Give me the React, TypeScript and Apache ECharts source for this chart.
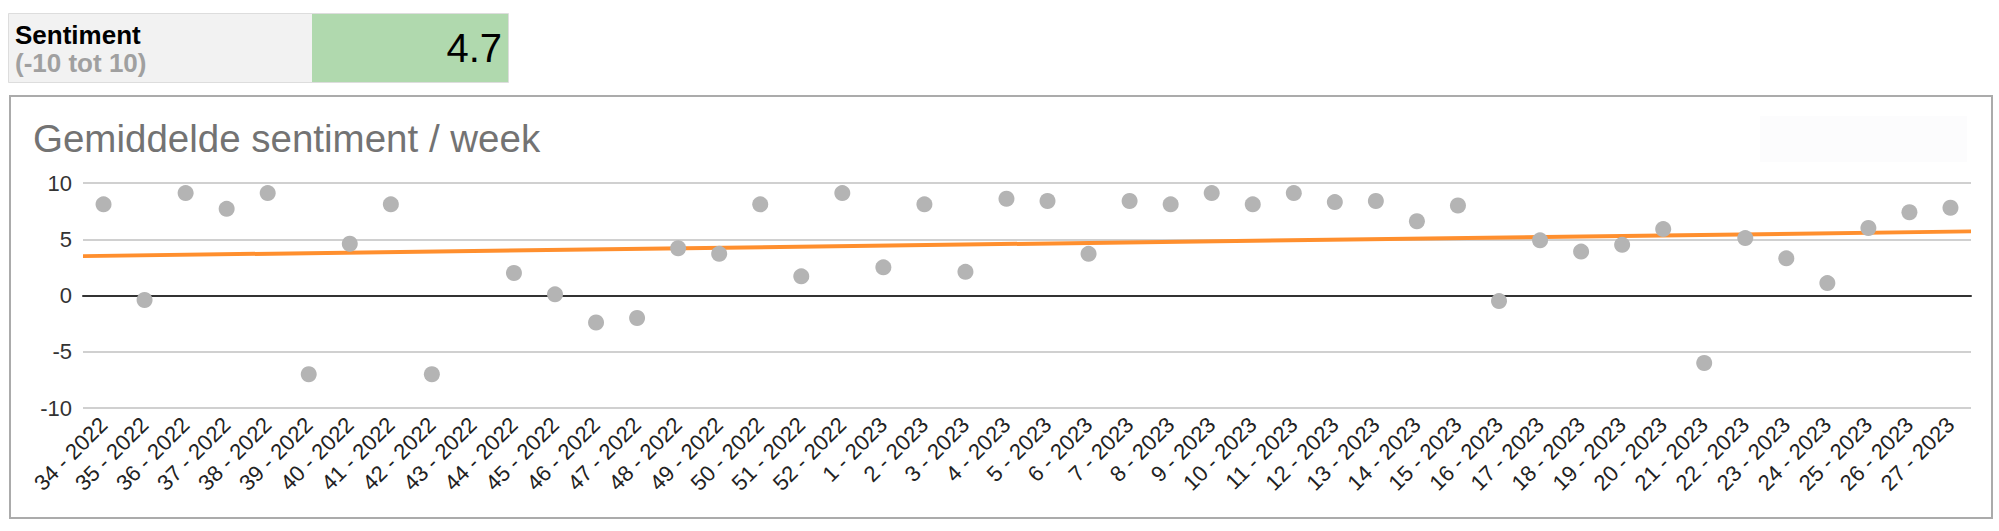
import React, { useEffect, useRef } from 'react';
import * as echarts from 'echarts';

const FONT = '"Liberation Sans", Arial, sans-serif';

const WEEKS = [
  '34 - 2022', '35 - 2022', '36 - 2022', '37 - 2022', '38 - 2022', '39 - 2022',
  '40 - 2022', '41 - 2022', '42 - 2022', '43 - 2022', '44 - 2022', '45 - 2022',
  '46 - 2022', '47 - 2022', '48 - 2022', '49 - 2022', '50 - 2022', '51 - 2022',
  '52 - 2022', '1 - 2023', '2 - 2023', '3 - 2023', '4 - 2023', '5 - 2023',
  '6 - 2023', '7 - 2023', '8 - 2023', '9 - 2023', '10 - 2023', '11 - 2023',
  '12 - 2023', '13 - 2023', '14 - 2023', '15 - 2023', '16 - 2023', '17 - 2023',
  '18 - 2023', '19 - 2023', '20 - 2023', '21 - 2023', '22 - 2023', '23 - 2023',
  '24 - 2023', '25 - 2023', '26 - 2023', '27 - 2023',
];

// average sentiment per week (null = no data that week)
const SENTIMENT = [
  8.1, -0.4, 9.1, 7.7, 9.1, -7.0,
  4.6, 8.1, -7.0, null, 2.0, 0.1,
  -2.4, -2.0, 4.2, 3.7, 8.1, 1.7,
  9.1, 2.5, 8.1, 2.1, 8.6, 8.4,
  3.7, 8.4, 8.1, 9.1, 8.1, 9.1,
  8.3, 8.4, 6.6, 8.0, -0.5, 4.9,
  3.9, 4.5, 5.9, -6.0, 5.1, 3.3,
  1.1, 6.0, 7.4, 7.8,
];

// linear trend line, value at left and right edge of the plot
const TREND_START = 3.5;
const TREND_END = 5.7;

const SCORE_LABEL = 'Sentiment';
const SCORE_RANGE = '(-10 tot 10)';
const SCORE_VALUE = '4.7';
const TITLE = 'Gemiddelde sentiment / week';

const Y_MIN = -10;
const Y_MAX = 10;
const Y_STEP = 5;

export default function App() {
  const chartRef = useRef<HTMLDivElement>(null);

  useEffect(() => {
    if (!chartRef.current) return;
    const chart = echarts.init(chartRef.current, null, { renderer: 'svg' });

    const option = {
      animation: false,
      graphic: [
        // scorecard
        {
          type: 'rect',
          shape: { x: 8.5, y: 13.5, width: 500, height: 69 },
          style: { fill: '#f2f2f2', stroke: '#dddddd', lineWidth: 1 },
        },
        {
          type: 'rect',
          shape: { x: 312, y: 14, width: 196, height: 68 },
          style: { fill: '#b0d9ae' },
        },
        {
          type: 'text',
          x: 15,
          y: 35,
          style: {
            text: SCORE_LABEL,
            font: `bold 26px ${FONT}`,
            fill: '#000000',
            verticalAlign: 'middle',
          },
        },
        {
          type: 'text',
          x: 15,
          y: 63,
          style: {
            text: SCORE_RANGE,
            font: `bold 26px ${FONT}`,
            fill: '#a0a0a0',
            verticalAlign: 'middle',
          },
        },
        {
          type: 'text',
          x: 502,
          y: 48,
          style: {
            text: SCORE_VALUE,
            font: `40px ${FONT}`,
            fill: '#000000',
            align: 'right',
            verticalAlign: 'middle',
          },
        },
        // chart frame
        {
          type: 'rect',
          shape: { x: 10, y: 96, width: 1982, height: 422 },
          style: { fill: 'none', stroke: '#ababab', lineWidth: 2 },
        },
        {
          type: 'rect',
          shape: { x: 1760, y: 116, width: 207, height: 46 },
          style: { fill: '#fcfcfd' },
        },
        {
          type: 'text',
          x: 33,
          y: 138,
          style: {
            text: TITLE,
            font: `38.5px ${FONT}`,
            fill: '#737373',
            verticalAlign: 'middle',
          },
        },
      ],
      grid: {
        left: 83,
        right: 28,
        top: 183,
        bottom: 123,
        containLabel: false,
      },
      xAxis: [
        {
          type: 'category',
          data: WEEKS,
          boundaryGap: true,
          axisTick: { show: false },
          axisLine: { show: true, onZero: true, lineStyle: { color: '#333333', width: 2 } },
          axisLabel: {
            interval: 0,
            rotate: 45,
            margin: 13,
            fontSize: 22,
            fontFamily: FONT,
            color: '#222222',
          },
          splitLine: { show: false },
        },
        {
          type: 'value',
          min: -0.5,
          max: WEEKS.length - 0.5,
          show: false,
        },
      ],
      yAxis: {
        type: 'value',
        min: Y_MIN,
        max: Y_MAX,
        interval: Y_STEP,
        axisLine: { show: false },
        axisTick: { show: false },
        axisLabel: {
          margin: 11,
          fontSize: 22,
          fontFamily: FONT,
          color: '#333333',
        },
        splitLine: { lineStyle: { color: '#d0d0d0', width: 2 } },
      },
      series: [
        {
          name: 'Trend',
          type: 'line',
          xAxisIndex: 1,
          data: [
            [-0.5, TREND_START],
            [WEEKS.length - 0.5, TREND_END],
          ],
          showSymbol: false,
          symbol: 'none',
          lineStyle: { color: '#ff8f2e', width: 4 },
          z: 2,
        },
        {
          name: 'Sentiment',
          type: 'scatter',
          xAxisIndex: 0,
          data: SENTIMENT,
          symbolSize: 16,
          itemStyle: { color: '#b4b4b4', opacity: 1 },
          z: 3,
        },
      ],
    };

    chart.setOption(option);
    return () => {
      chart.dispose();
    };
  }, []);

  return (
    <div
      ref={chartRef}
      style={{ position: 'absolute', left: 0, top: 0, width: 1999, height: 531, background: '#ffffff' }}
    />
  );
}
